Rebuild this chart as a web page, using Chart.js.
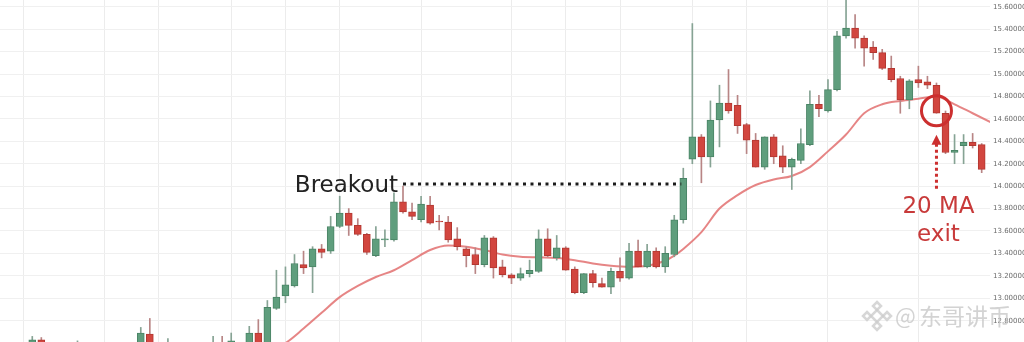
<!DOCTYPE html>
<html>
<head>
<meta charset="utf-8">
<script src="https://cdn.jsdelivr.net/npm/chart.js@4"></script>
<style>
  html, body { margin: 0; padding: 0; background: #fff; }
  #wrap { width: 1024px; height: 342px; }
</style>
</head>
<body>
<div id="wrap"><canvas id="price_chart" width="1024" height="342"></canvas></div>
<script>
// candle index (one per trading day) and OHLC
const idx = [-24, -23, -19, -12, -11, -9, -4, -3, -2,
  0, 1, 2, 3, 4, 5, 6, 7, 8, 9, 10, 11, 12, 13, 14, 15, 16, 17, 18, 19,
  20, 21, 22, 23, 24, 25, 26, 27, 28, 29, 30, 31, 32, 33, 34, 35, 36, 37, 38, 39,
  40, 41, 42, 43, 44, 45, 46, 47, 48, 49, 50, 51, 52, 53, 54, 55, 56, 57, 58, 59,
  60, 61, 62, 63, 64, 65, 66, 67, 68, 69, 70, 71, 72, 73, 74, 75, 76, 77, 78, 79,
  80, 81];
const open = [12.45, 12.63, 12.45, 12.50, 12.68, 12.52, 12.55, 12.60, 12.55,
  12.55, 12.69, 12.58, 12.91, 13.02, 13.11, 13.30, 13.28, 13.44, 13.42, 13.64, 13.76, 13.65, 13.57, 13.38, 13.52, 13.52, 13.86, 13.77, 13.70,
  13.83, 13.685, 13.68, 13.53, 13.44, 13.39, 13.30, 13.54, 13.28, 13.21, 13.18, 13.22, 13.24, 13.53, 13.36, 13.45, 13.26, 13.05, 13.22, 13.13,
  13.10, 13.24, 13.18, 13.42, 13.28, 13.42, 13.28, 13.39, 13.70, 14.24, 14.44, 14.26, 14.59, 14.74, 14.72, 14.55, 14.41, 14.17, 14.44, 14.27,
  14.17, 14.23, 14.37, 14.73, 14.67, 14.86, 15.34, 15.41, 15.32, 15.24, 15.19, 15.05, 14.96, 14.77, 14.95, 14.93, 14.90, 14.65, 14.30, 14.36,
  14.39, 14.37];
const high = [12.66, 12.65, 12.62, 12.74, 12.82, 12.64, 12.66, 12.66, 12.69,
  12.75, 12.81, 12.98, 13.25, 13.28, 13.39, 13.42, 13.46, 13.48, 13.73, 13.91, 13.80, 13.71, 13.58, 13.64, 13.61, 13.94, 14.00, 13.85, 13.91,
  13.91, 13.74, 13.73, 13.63, 13.46, 13.45, 13.56, 13.55, 13.34, 13.22, 13.27, 13.34, 13.61, 13.62, 13.56, 13.46, 13.28, 13.22, 13.25, 13.18,
  13.27, 13.36, 13.49, 13.52, 13.48, 13.45, 13.46, 13.74, 14.16, 15.45, 14.46, 14.76, 14.90, 15.04, 14.81, 14.56, 14.47, 14.44, 14.46, 14.36,
  14.25, 14.51, 14.85, 14.81, 14.95, 15.38, 15.72, 15.53, 15.34, 15.29, 15.22, 15.16, 14.98, 14.95, 15.07, 14.98, 14.92, 14.67, 14.46, 14.46,
  14.47, 14.38];
const low = [12.40, 12.40, 12.40, 12.45, 12.45, 12.45, 12.50, 12.50, 12.50,
  12.50, 12.50, 12.55, 12.90, 12.96, 13.10, 13.22, 13.05, 13.36, 13.40, 13.63, 13.56, 13.56, 13.39, 13.37, 13.46, 13.51, 13.76, 13.70, 13.68,
  13.66, 13.61, 13.50, 13.43, 13.28, 13.22, 13.28, 13.18, 13.19, 13.13, 13.16, 13.19, 13.23, 13.37, 13.34, 13.25, 13.04, 13.04, 13.10, 13.10,
  13.04, 13.15, 13.17, 13.28, 13.27, 13.27, 13.23, 13.37, 13.67, 14.20, 14.03, 14.17, 14.35, 14.65, 14.47, 14.29, 14.17, 14.15, 14.20, 14.12,
  13.97, 14.20, 14.36, 14.62, 14.66, 14.85, 15.32, 15.23, 15.07, 15.13, 15.04, 14.93, 14.65, 14.69, 14.88, 14.87, 14.65, 14.29, 14.20, 14.20,
  14.34, 14.12];
const close = [12.63, 12.48, 12.58, 12.69, 12.52, 12.57, 12.60, 12.55, 12.62,
  12.69, 12.56, 12.92, 13.01, 13.12, 13.31, 13.27, 13.44, 13.41, 13.64, 13.76, 13.65, 13.57, 13.41, 13.53, 13.53, 13.86, 13.77, 13.73, 13.84,
  13.67, 13.68, 13.52, 13.46, 13.38, 13.30, 13.54, 13.27, 13.21, 13.18, 13.22, 13.25, 13.53, 13.38, 13.45, 13.25, 13.05, 13.22, 13.14, 13.10,
  13.24, 13.18, 13.42, 13.28, 13.42, 13.28, 13.40, 13.70, 14.07, 14.44, 14.26, 14.59, 14.74, 14.67, 14.54, 14.41, 14.17, 14.44, 14.26, 14.17,
  14.24, 14.38, 14.73, 14.69, 14.86, 15.34, 15.41, 15.32, 15.23, 15.19, 15.05, 14.95, 14.77, 14.94, 14.92, 14.90, 14.65, 14.30, 14.32, 14.39,
  14.36, 14.15];

// 20 MA as drawn in the picture
const maIdx = [3, 4, 6, 8, 10, 12, 14, 16, 18, 20, 22, 24, 26, 28, 30, 32, 34, 36, 38, 40,
  42, 44, 46, 47, 48, 50, 52, 54, 56, 58, 60, 62, 64, 66, 68, 70, 72, 74, 76, 78, 80, 82];
const maVal = [12.56, 12.60, 12.73, 12.87, 13.01, 13.11, 13.19, 13.25, 13.34, 13.43, 13.47, 13.46, 13.43, 13.39, 13.37, 13.365, 13.36, 13.34, 13.31, 13.29,
  13.28, 13.29, 13.335, 13.38, 13.44, 13.59, 13.80, 13.92, 14.01, 14.06, 14.09, 14.17, 14.31, 14.46, 14.65, 14.73, 14.76, 14.78, 14.80, 14.73, 14.65, 14.57];

const yTicks = [15.6, 15.4, 15.2, 15.0, 14.8, 14.6, 14.4, 14.2, 14.0, 13.8, 13.6, 13.4, 13.2, 13.0, 12.8];
const gridIdx = [-25, -16, -10, -2, 4, 10, 19, 29, 35, 41, 49, 55, 64, 74];

const breakLevel = 14.02;   // dotted breakout line
const breakFrom = 17, breakTo = 48;
const exitIdx = 76, exitLevel = 14.672;

const up = '#5f9e7d', down = '#d2463f';
const isUp = close.map((c, k) => c >= open[k]);

const notes = {
    id: 'notes',
    afterDatasetsDraw(chart) {
        const {ctx, scales: {x, y}} = chart;
        ctx.save();

        // breakout
        const by = y.getPixelForValue(breakLevel);
        const bx1 = x.getPixelForValue(breakFrom);
        const bx2 = x.getPixelForValue(breakTo) - 2;
        ctx.strokeStyle = '#1c1c1c';
        ctx.lineWidth = 3;
        ctx.setLineDash([3, 4.5]);
        ctx.beginPath();
        ctx.moveTo(bx1, by);
        ctx.lineTo(bx2, by);
        ctx.stroke();
        ctx.setLineDash([]);
        ctx.fillStyle = '#222';
        ctx.font = '23px "DejaVu Sans"';
        ctx.textAlign = 'right';
        ctx.textBaseline = 'alphabetic';
        ctx.fillText('Breakout', bx1 - 5, by + 8);

        // exit circle + arrow
        const red = '#cc2f2f';
        const ex = x.getPixelForValue(exitIdx);
        const ey = y.getPixelForValue(exitLevel);
        ctx.strokeStyle = red;
        ctx.lineWidth = 3;
        ctx.beginPath();
        ctx.arc(ex, ey, 15, 0, Math.PI * 2);
        ctx.stroke();

        const tipY = ey + 24;
        ctx.setLineDash([3, 3]);
        ctx.beginPath();
        ctx.moveTo(ex, tipY + 9);
        ctx.lineTo(ex, tipY + 57);
        ctx.stroke();
        ctx.setLineDash([]);
        ctx.fillStyle = red;
        ctx.beginPath();
        ctx.moveTo(ex, tipY);
        ctx.lineTo(ex - 5, tipY + 10);
        ctx.lineTo(ex + 5, tipY + 10);
        ctx.closePath();
        ctx.fill();

        ctx.fillStyle = '#c83a3a';
        ctx.textAlign = 'center';
        ctx.fillText('20 MA', ex + 2, tipY + 78);
        ctx.fillText('exit', ex + 2, tipY + 106);
        ctx.restore();
    },
    afterDraw(chart) {
        // watermark
        const ctx = chart.ctx;
        ctx.save();
        ctx.strokeStyle = 'rgba(205,205,205,0.8)';
        ctx.lineWidth = 2.5;
        const cx = 877, cy = 316;
        const diamonds = [[0, 0, 6], [-10, 0, 4], [10, 0, 4], [0, -10, 4], [0, 10, 4]];
        diamonds.forEach(([dx, dy, r]) => {
            ctx.beginPath();
            ctx.moveTo(cx + dx, cy + dy - r);
            ctx.lineTo(cx + dx + r, cy + dy);
            ctx.lineTo(cx + dx, cy + dy + r);
            ctx.lineTo(cx + dx - r, cy + dy);
            ctx.closePath();
            ctx.stroke();
        });
        ctx.fillStyle = 'rgba(200,200,200,0.8)';
        ctx.font = '22px "Noto Sans CJK SC"';
        ctx.textAlign = 'left';
        ctx.textBaseline = 'middle';
        ctx.fillText('@', 895, cy);
        ctx.font = '23px "Noto Sans CJK SC"';
        ctx.fillText('东哥讲币', 919, cy);
        ctx.restore();
    }
};

const ctx = document.getElementById('price_chart');
const chart = new Chart(ctx, {
    type: 'bar',
    data: {
        datasets: [
            {
                label: 'body',
                data: idx.map((v, k) => ({x: v, y: [open[k], close[k]]})),
                backgroundColor: isUp.map(u => u ? up : down),
                borderColor: isUp.map(u => u ? '#4a8466' : '#b33832'),
                borderWidth: 1,
                borderSkipped: false,
                barThickness: 7,
                minBarLength: 1,
                grouped: false,
                order: 0,
            },
            {
                label: 'wick',
                data: idx.map((v, k) => ({x: v, y: [low[k], high[k]]})),
                backgroundColor: isUp.map(u => u ? '#86a394' : '#b88585'),
                barThickness: 1,
                grouped: false,
                order: 1,
            },
            {
                type: 'line',
                label: '20 MA',
                data: maIdx.map((v, k) => ({x: v, y: maVal[k]})),
                borderColor: 'rgba(226,112,112,0.85)',
                borderWidth: 2,
                pointRadius: 0,
                tension: 0.4,
                cubicInterpolationMode: 'monotone',
                order: 2,
            }
        ]
    },
    options: {
        responsive: false,
        animation: false,
        devicePixelRatio: 1,
        layout: { padding: 0 },
        plugins: {
            legend: { display: false },
            tooltip: { enabled: false },
        },
        scales: {
            x: {
                type: 'linear',
                min: -27.57,
                max: 81.92,
                offset: false,
                afterBuildTicks: s => { s.ticks = gridIdx.map(v => ({value: v})); },
                afterFit: s => { s.height = 0; s.paddingLeft = 0; s.paddingRight = 0; },
                ticks: { display: false },
                grid: { color: '#ececec', offset: false, drawTicks: false },
                border: { display: false },
            },
            y: {
                position: 'right',
                min: 12.61,
                max: 15.66,
                afterBuildTicks: s => { s.ticks = yTicks.map(v => ({value: v})); },
                afterFit: s => { s.width = 34; s.paddingTop = 0; s.paddingBottom = 0; },
                ticks: {
                    padding: 3,
                    color: '#6b6b6b',
                    font: { family: 'DejaVu Sans', size: 7 },
                    callback: v => Number(v).toFixed(5),
                },
                grid: { color: '#f0f0f0', drawTicks: false },
                border: { display: false },
            }
        }
    },
    plugins: [notes],
});
</script>
</body>
</html>
